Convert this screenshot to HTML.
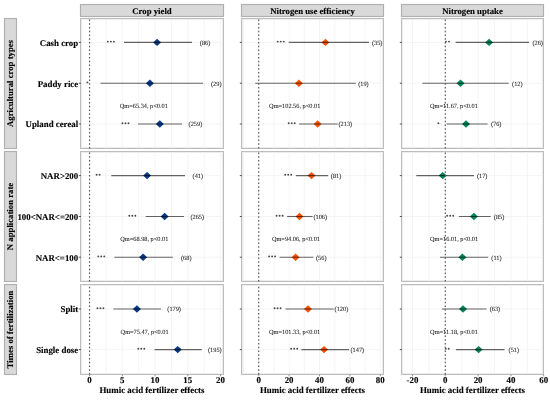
<!DOCTYPE html><html><head><meta charset="utf-8"><style>html,body{margin:0;padding:0;background:#fff;width:550px;height:401px;overflow:hidden}svg{display:block;will-change:transform}text{font-family:"Liberation Serif",serif;text-rendering:geometricPrecision}.b{font-weight:bold;font-size:8.85px;fill:#000;stroke:#000;stroke-width:0.12px}.r{font-size:6.3px;fill:#1a1a1a;stroke:#1a1a1a;stroke-width:0.06px}</style></head><body>
<svg width="550" height="401" viewBox="0 0 550 401">
<rect x="80.5" y="4.5" width="143.0" height="12" fill="#d9d9d9" stroke="#b0b0b0" stroke-width="1.15"/>
<text class="b" x="152.0" y="13.5" text-anchor="middle" style="font-size:8.72px">Crop yield</text>
<rect x="241.5" y="4.5" width="142.0" height="12" fill="#d9d9d9" stroke="#b0b0b0" stroke-width="1.15"/>
<text class="b" x="312.5" y="13.5" text-anchor="middle" style="font-size:8.72px">Nitrogen use efficiency</text>
<rect x="401.5" y="4.5" width="142.0" height="12" fill="#d9d9d9" stroke="#b0b0b0" stroke-width="1.15"/>
<text class="b" x="472.5" y="13.5" text-anchor="middle" style="font-size:8.72px">Nitrogen uptake</text>
<rect x="4.5" y="18.5" width="12" height="130.0" fill="#d9d9d9" stroke="#b0b0b0" stroke-width="1.15"/>
<text class="b" transform="translate(13.4,83.5) rotate(-90)" x="0" y="0" text-anchor="middle" style="font-size:8.72px">Agricultural crop types</text>
<rect x="4.5" y="151.5" width="12" height="130.0" fill="#d9d9d9" stroke="#b0b0b0" stroke-width="1.15"/>
<text class="b" transform="translate(13.4,216.5) rotate(-90)" x="0" y="0" text-anchor="middle" style="font-size:8.72px">N application rate</text>
<rect x="4.5" y="284.5" width="12" height="90.0" fill="#d9d9d9" stroke="#b0b0b0" stroke-width="1.15"/>
<text class="b" transform="translate(13.4,329.5) rotate(-90)" x="0" y="0" text-anchor="middle" style="font-size:8.72px">Times of fertilization</text>
<rect x="80.5" y="18.5" width="143.0" height="130.0" fill="#fff"/>
<rect x="81.5" y="19.5" width="141.0" height="128.0" fill="none" stroke="#ececec" stroke-width="1"/>
<line x1="89.55" y1="18.5" x2="89.55" y2="148.5" stroke="#f1f1f1" stroke-width="0.8"/>
<line x1="105.92" y1="18.5" x2="105.92" y2="148.5" stroke="#f1f1f1" stroke-width="0.8"/>
<line x1="122.30" y1="18.5" x2="122.30" y2="148.5" stroke="#f1f1f1" stroke-width="0.8"/>
<line x1="138.68" y1="18.5" x2="138.68" y2="148.5" stroke="#f1f1f1" stroke-width="0.8"/>
<line x1="155.05" y1="18.5" x2="155.05" y2="148.5" stroke="#f1f1f1" stroke-width="0.8"/>
<line x1="171.43" y1="18.5" x2="171.43" y2="148.5" stroke="#f1f1f1" stroke-width="0.8"/>
<line x1="187.80" y1="18.5" x2="187.80" y2="148.5" stroke="#f1f1f1" stroke-width="0.8"/>
<line x1="204.18" y1="18.5" x2="204.18" y2="148.5" stroke="#f1f1f1" stroke-width="0.8"/>
<line x1="220.55" y1="18.5" x2="220.55" y2="148.5" stroke="#f1f1f1" stroke-width="0.8"/>
<line x1="80.5" y1="42.40" x2="223.5" y2="42.40" stroke="#f1f1f1" stroke-width="0.8"/>
<line x1="80.5" y1="83.20" x2="223.5" y2="83.20" stroke="#f1f1f1" stroke-width="0.8"/>
<line x1="80.5" y1="124.00" x2="223.5" y2="124.00" stroke="#f1f1f1" stroke-width="0.8"/>
<path d="M157.1 38.70L161.1 42.40L157.1 46.10L153.1 42.40Z" fill="#073a85"/>
<line x1="124.0" y1="42.40" x2="192.0" y2="42.40" stroke="#000" stroke-opacity="0.6" stroke-width="1.1"/>
<circle cx="107.90" cy="41.60" r="0.95" fill="#4a4a4a"/>
<circle cx="110.90" cy="41.60" r="0.95" fill="#4a4a4a"/>
<circle cx="113.90" cy="41.60" r="0.95" fill="#4a4a4a"/>
<text class="r" x="199.8" y="44.70">(86)</text>
<path d="M149.9 79.50L153.9 83.20L149.9 86.90L145.9 83.20Z" fill="#073a85"/>
<line x1="100.5" y1="83.20" x2="203.1" y2="83.20" stroke="#000" stroke-opacity="0.6" stroke-width="1.1"/>
<circle cx="87.40" cy="82.40" r="0.95" fill="#4a4a4a"/>
<text class="r" x="211.0" y="85.50">(29)</text>
<path d="M159.8 120.30L163.8 124.00L159.8 127.70L155.8 124.00Z" fill="#073a85"/>
<line x1="138.1" y1="124.00" x2="182.1" y2="124.00" stroke="#000" stroke-opacity="0.6" stroke-width="1.1"/>
<circle cx="122.50" cy="123.20" r="0.95" fill="#4a4a4a"/>
<circle cx="125.50" cy="123.20" r="0.95" fill="#4a4a4a"/>
<circle cx="128.50" cy="123.20" r="0.95" fill="#4a4a4a"/>
<text class="r" x="188.6" y="126.30">(259)</text>
<text class="r" x="119.8" y="108.00">Qm=65.34, p&lt;0.01</text>
<rect x="80.5" y="18.5" width="143.0" height="130.0" fill="none" stroke="#bdbdbd" stroke-width="1"/>
<line x1="89.55" y1="148.55" x2="89.55" y2="18.8" stroke="#5a5a5a" stroke-width="1.2" stroke-dasharray="1.5 2.25"/>
<rect x="80.5" y="151.5" width="143.0" height="130.0" fill="#fff"/>
<rect x="81.5" y="152.5" width="141.0" height="128.0" fill="none" stroke="#ececec" stroke-width="1"/>
<line x1="89.55" y1="151.5" x2="89.55" y2="281.5" stroke="#f1f1f1" stroke-width="0.8"/>
<line x1="105.92" y1="151.5" x2="105.92" y2="281.5" stroke="#f1f1f1" stroke-width="0.8"/>
<line x1="122.30" y1="151.5" x2="122.30" y2="281.5" stroke="#f1f1f1" stroke-width="0.8"/>
<line x1="138.68" y1="151.5" x2="138.68" y2="281.5" stroke="#f1f1f1" stroke-width="0.8"/>
<line x1="155.05" y1="151.5" x2="155.05" y2="281.5" stroke="#f1f1f1" stroke-width="0.8"/>
<line x1="171.43" y1="151.5" x2="171.43" y2="281.5" stroke="#f1f1f1" stroke-width="0.8"/>
<line x1="187.80" y1="151.5" x2="187.80" y2="281.5" stroke="#f1f1f1" stroke-width="0.8"/>
<line x1="204.18" y1="151.5" x2="204.18" y2="281.5" stroke="#f1f1f1" stroke-width="0.8"/>
<line x1="220.55" y1="151.5" x2="220.55" y2="281.5" stroke="#f1f1f1" stroke-width="0.8"/>
<line x1="80.5" y1="175.60" x2="223.5" y2="175.60" stroke="#f1f1f1" stroke-width="0.8"/>
<line x1="80.5" y1="216.50" x2="223.5" y2="216.50" stroke="#f1f1f1" stroke-width="0.8"/>
<line x1="80.5" y1="257.20" x2="223.5" y2="257.20" stroke="#f1f1f1" stroke-width="0.8"/>
<path d="M147.1 171.90L151.1 175.60L147.1 179.30L143.1 175.60Z" fill="#073a85"/>
<line x1="111.3" y1="175.60" x2="185.0" y2="175.60" stroke="#000" stroke-opacity="0.6" stroke-width="1.1"/>
<circle cx="96.60" cy="174.80" r="0.95" fill="#4a4a4a"/>
<circle cx="99.60" cy="174.80" r="0.95" fill="#4a4a4a"/>
<text class="r" x="192.6" y="177.90">(41)</text>
<path d="M164.6 212.80L168.6 216.50L164.6 220.20L160.6 216.50Z" fill="#073a85"/>
<line x1="145.7" y1="216.50" x2="184.0" y2="216.50" stroke="#000" stroke-opacity="0.6" stroke-width="1.1"/>
<circle cx="129.30" cy="215.70" r="0.95" fill="#4a4a4a"/>
<circle cx="132.30" cy="215.70" r="0.95" fill="#4a4a4a"/>
<circle cx="135.30" cy="215.70" r="0.95" fill="#4a4a4a"/>
<text class="r" x="190.4" y="218.80">(265)</text>
<path d="M143.1 253.50L147.1 257.20L143.1 260.90L139.1 257.20Z" fill="#073a85"/>
<line x1="114.4" y1="257.20" x2="172.8" y2="257.20" stroke="#000" stroke-opacity="0.6" stroke-width="1.1"/>
<circle cx="98.30" cy="256.40" r="0.95" fill="#4a4a4a"/>
<circle cx="101.30" cy="256.40" r="0.95" fill="#4a4a4a"/>
<circle cx="104.30" cy="256.40" r="0.95" fill="#4a4a4a"/>
<text class="r" x="181.0" y="259.50">(68)</text>
<text class="r" x="120.3" y="241.25">Qm=68.98, p&lt;0.01</text>
<rect x="80.5" y="151.5" width="143.0" height="130.0" fill="none" stroke="#bdbdbd" stroke-width="1"/>
<line x1="89.55" y1="281.55" x2="89.55" y2="151.8" stroke="#5a5a5a" stroke-width="1.2" stroke-dasharray="1.5 2.25"/>
<rect x="80.5" y="284.5" width="143.0" height="90.0" fill="#fff"/>
<rect x="81.5" y="285.5" width="141.0" height="88.0" fill="none" stroke="#ececec" stroke-width="1"/>
<line x1="89.55" y1="284.5" x2="89.55" y2="374.5" stroke="#f1f1f1" stroke-width="0.8"/>
<line x1="105.92" y1="284.5" x2="105.92" y2="374.5" stroke="#f1f1f1" stroke-width="0.8"/>
<line x1="122.30" y1="284.5" x2="122.30" y2="374.5" stroke="#f1f1f1" stroke-width="0.8"/>
<line x1="138.68" y1="284.5" x2="138.68" y2="374.5" stroke="#f1f1f1" stroke-width="0.8"/>
<line x1="155.05" y1="284.5" x2="155.05" y2="374.5" stroke="#f1f1f1" stroke-width="0.8"/>
<line x1="171.43" y1="284.5" x2="171.43" y2="374.5" stroke="#f1f1f1" stroke-width="0.8"/>
<line x1="187.80" y1="284.5" x2="187.80" y2="374.5" stroke="#f1f1f1" stroke-width="0.8"/>
<line x1="204.18" y1="284.5" x2="204.18" y2="374.5" stroke="#f1f1f1" stroke-width="0.8"/>
<line x1="220.55" y1="284.5" x2="220.55" y2="374.5" stroke="#f1f1f1" stroke-width="0.8"/>
<line x1="80.5" y1="309.00" x2="223.5" y2="309.00" stroke="#f1f1f1" stroke-width="0.8"/>
<line x1="80.5" y1="349.60" x2="223.5" y2="349.60" stroke="#f1f1f1" stroke-width="0.8"/>
<path d="M136.9 305.30L140.9 309.00L136.9 312.70L132.9 309.00Z" fill="#073a85"/>
<line x1="113.4" y1="309.00" x2="161.0" y2="309.00" stroke="#000" stroke-opacity="0.6" stroke-width="1.1"/>
<circle cx="97.40" cy="308.20" r="0.95" fill="#4a4a4a"/>
<circle cx="100.40" cy="308.20" r="0.95" fill="#4a4a4a"/>
<circle cx="103.40" cy="308.20" r="0.95" fill="#4a4a4a"/>
<text class="r" x="167.3" y="311.30">(179)</text>
<path d="M177.7 345.90L181.7 349.60L177.7 353.30L173.7 349.60Z" fill="#073a85"/>
<line x1="154.5" y1="349.60" x2="201.8" y2="349.60" stroke="#000" stroke-opacity="0.6" stroke-width="1.1"/>
<circle cx="138.30" cy="348.80" r="0.95" fill="#4a4a4a"/>
<circle cx="141.30" cy="348.80" r="0.95" fill="#4a4a4a"/>
<circle cx="144.30" cy="348.80" r="0.95" fill="#4a4a4a"/>
<text class="r" x="208.0" y="351.90">(195)</text>
<text class="r" x="120.6" y="333.70">Qm=75.47, p&lt;0.01</text>
<rect x="80.5" y="284.5" width="143.0" height="90.0" fill="none" stroke="#bdbdbd" stroke-width="1"/>
<line x1="89.55" y1="374.55" x2="89.55" y2="284.8" stroke="#5a5a5a" stroke-width="1.2" stroke-dasharray="1.5 2.25"/>
<line x1="89.55" y1="374.5" x2="89.55" y2="376.3" stroke="#777" stroke-width="0.8"/>
<text class="b" x="89.55" y="382.9" text-anchor="middle" style="font-size:8.9px">0</text>
<line x1="122.30" y1="374.5" x2="122.30" y2="376.3" stroke="#777" stroke-width="0.8"/>
<text class="b" x="122.30" y="382.9" text-anchor="middle" style="font-size:8.9px">5</text>
<line x1="155.05" y1="374.5" x2="155.05" y2="376.3" stroke="#777" stroke-width="0.8"/>
<text class="b" x="155.05" y="382.9" text-anchor="middle" style="font-size:8.9px">10</text>
<line x1="187.80" y1="374.5" x2="187.80" y2="376.3" stroke="#777" stroke-width="0.8"/>
<text class="b" x="187.80" y="382.9" text-anchor="middle" style="font-size:8.9px">15</text>
<line x1="220.55" y1="374.5" x2="220.55" y2="376.3" stroke="#777" stroke-width="0.8"/>
<text class="b" x="220.55" y="382.9" text-anchor="middle" style="font-size:8.9px">20</text>
<text class="b" x="152.0" y="393.1" text-anchor="middle" style="font-size:8.9px">Humic acid fertilizer effects</text>
<rect x="241.5" y="18.5" width="142.0" height="130.0" fill="#fff"/>
<rect x="242.5" y="19.5" width="140.0" height="128.0" fill="none" stroke="#ececec" stroke-width="1"/>
<line x1="243.50" y1="18.5" x2="243.50" y2="148.5" stroke="#f1f1f1" stroke-width="0.8"/>
<line x1="258.70" y1="18.5" x2="258.70" y2="148.5" stroke="#f1f1f1" stroke-width="0.8"/>
<line x1="273.90" y1="18.5" x2="273.90" y2="148.5" stroke="#f1f1f1" stroke-width="0.8"/>
<line x1="289.10" y1="18.5" x2="289.10" y2="148.5" stroke="#f1f1f1" stroke-width="0.8"/>
<line x1="304.30" y1="18.5" x2="304.30" y2="148.5" stroke="#f1f1f1" stroke-width="0.8"/>
<line x1="319.50" y1="18.5" x2="319.50" y2="148.5" stroke="#f1f1f1" stroke-width="0.8"/>
<line x1="334.70" y1="18.5" x2="334.70" y2="148.5" stroke="#f1f1f1" stroke-width="0.8"/>
<line x1="349.90" y1="18.5" x2="349.90" y2="148.5" stroke="#f1f1f1" stroke-width="0.8"/>
<line x1="365.10" y1="18.5" x2="365.10" y2="148.5" stroke="#f1f1f1" stroke-width="0.8"/>
<line x1="380.30" y1="18.5" x2="380.30" y2="148.5" stroke="#f1f1f1" stroke-width="0.8"/>
<line x1="241.5" y1="42.40" x2="383.5" y2="42.40" stroke="#f1f1f1" stroke-width="0.8"/>
<line x1="241.5" y1="83.20" x2="383.5" y2="83.20" stroke="#f1f1f1" stroke-width="0.8"/>
<line x1="241.5" y1="124.00" x2="383.5" y2="124.00" stroke="#f1f1f1" stroke-width="0.8"/>
<path d="M325.4 38.70L329.4 42.40L325.4 46.10L321.4 42.40Z" fill="#f85200"/>
<line x1="288.7" y1="42.40" x2="369.0" y2="42.40" stroke="#000" stroke-opacity="0.6" stroke-width="1.1"/>
<circle cx="277.70" cy="41.60" r="0.95" fill="#4a4a4a"/>
<circle cx="280.70" cy="41.60" r="0.95" fill="#4a4a4a"/>
<circle cx="283.70" cy="41.60" r="0.95" fill="#4a4a4a"/>
<text class="r" x="371.9" y="44.70">(35)</text>
<path d="M298.9 79.50L302.9 83.20L298.9 86.90L294.9 83.20Z" fill="#f85200"/>
<line x1="255.3" y1="83.20" x2="355.8" y2="83.20" stroke="#000" stroke-opacity="0.6" stroke-width="1.1"/>
<text class="r" x="358.2" y="85.50">(19)</text>
<path d="M317.6 120.30L321.6 124.00L317.6 127.70L313.6 124.00Z" fill="#f85200"/>
<line x1="299.1" y1="124.00" x2="337.8" y2="124.00" stroke="#000" stroke-opacity="0.6" stroke-width="1.1"/>
<circle cx="288.70" cy="123.20" r="0.95" fill="#4a4a4a"/>
<circle cx="291.70" cy="123.20" r="0.95" fill="#4a4a4a"/>
<circle cx="294.70" cy="123.20" r="0.95" fill="#4a4a4a"/>
<text class="r" x="338.5" y="126.30">(213)</text>
<text class="r" x="269.1" y="108.00">Qm=102.56, p&lt;0.01</text>
<rect x="241.5" y="18.5" width="142.0" height="130.0" fill="none" stroke="#bdbdbd" stroke-width="1"/>
<line x1="258.7" y1="148.55" x2="258.7" y2="18.8" stroke="#5a5a5a" stroke-width="1.2" stroke-dasharray="1.5 2.25"/>
<rect x="241.5" y="151.5" width="142.0" height="130.0" fill="#fff"/>
<rect x="242.5" y="152.5" width="140.0" height="128.0" fill="none" stroke="#ececec" stroke-width="1"/>
<line x1="243.50" y1="151.5" x2="243.50" y2="281.5" stroke="#f1f1f1" stroke-width="0.8"/>
<line x1="258.70" y1="151.5" x2="258.70" y2="281.5" stroke="#f1f1f1" stroke-width="0.8"/>
<line x1="273.90" y1="151.5" x2="273.90" y2="281.5" stroke="#f1f1f1" stroke-width="0.8"/>
<line x1="289.10" y1="151.5" x2="289.10" y2="281.5" stroke="#f1f1f1" stroke-width="0.8"/>
<line x1="304.30" y1="151.5" x2="304.30" y2="281.5" stroke="#f1f1f1" stroke-width="0.8"/>
<line x1="319.50" y1="151.5" x2="319.50" y2="281.5" stroke="#f1f1f1" stroke-width="0.8"/>
<line x1="334.70" y1="151.5" x2="334.70" y2="281.5" stroke="#f1f1f1" stroke-width="0.8"/>
<line x1="349.90" y1="151.5" x2="349.90" y2="281.5" stroke="#f1f1f1" stroke-width="0.8"/>
<line x1="365.10" y1="151.5" x2="365.10" y2="281.5" stroke="#f1f1f1" stroke-width="0.8"/>
<line x1="380.30" y1="151.5" x2="380.30" y2="281.5" stroke="#f1f1f1" stroke-width="0.8"/>
<line x1="241.5" y1="175.60" x2="383.5" y2="175.60" stroke="#f1f1f1" stroke-width="0.8"/>
<line x1="241.5" y1="216.50" x2="383.5" y2="216.50" stroke="#f1f1f1" stroke-width="0.8"/>
<line x1="241.5" y1="257.20" x2="383.5" y2="257.20" stroke="#f1f1f1" stroke-width="0.8"/>
<path d="M311.5 171.90L315.5 175.60L311.5 179.30L307.5 175.60Z" fill="#f85200"/>
<line x1="295.9" y1="175.60" x2="328.2" y2="175.60" stroke="#000" stroke-opacity="0.6" stroke-width="1.1"/>
<circle cx="285.20" cy="174.80" r="0.95" fill="#4a4a4a"/>
<circle cx="288.20" cy="174.80" r="0.95" fill="#4a4a4a"/>
<circle cx="291.20" cy="174.80" r="0.95" fill="#4a4a4a"/>
<text class="r" x="330.8" y="177.90">(81)</text>
<path d="M299.5 212.80L303.5 216.50L299.5 220.20L295.5 216.50Z" fill="#f85200"/>
<line x1="287.1" y1="216.50" x2="312.6" y2="216.50" stroke="#000" stroke-opacity="0.6" stroke-width="1.1"/>
<circle cx="276.60" cy="215.70" r="0.95" fill="#4a4a4a"/>
<circle cx="279.60" cy="215.70" r="0.95" fill="#4a4a4a"/>
<circle cx="282.60" cy="215.70" r="0.95" fill="#4a4a4a"/>
<text class="r" x="313.4" y="218.80">(106)</text>
<path d="M295.6 253.50L299.6 257.20L295.6 260.90L291.6 257.20Z" fill="#f85200"/>
<line x1="279.6" y1="257.20" x2="313.5" y2="257.20" stroke="#000" stroke-opacity="0.6" stroke-width="1.1"/>
<circle cx="269.10" cy="256.40" r="0.95" fill="#4a4a4a"/>
<circle cx="272.10" cy="256.40" r="0.95" fill="#4a4a4a"/>
<circle cx="275.10" cy="256.40" r="0.95" fill="#4a4a4a"/>
<text class="r" x="316.0" y="259.50">(56)</text>
<text class="r" x="271.9" y="241.25">Qm=94.06, p&lt;0.01</text>
<rect x="241.5" y="151.5" width="142.0" height="130.0" fill="none" stroke="#bdbdbd" stroke-width="1"/>
<line x1="258.7" y1="281.55" x2="258.7" y2="151.8" stroke="#5a5a5a" stroke-width="1.2" stroke-dasharray="1.5 2.25"/>
<rect x="241.5" y="284.5" width="142.0" height="90.0" fill="#fff"/>
<rect x="242.5" y="285.5" width="140.0" height="88.0" fill="none" stroke="#ececec" stroke-width="1"/>
<line x1="243.50" y1="284.5" x2="243.50" y2="374.5" stroke="#f1f1f1" stroke-width="0.8"/>
<line x1="258.70" y1="284.5" x2="258.70" y2="374.5" stroke="#f1f1f1" stroke-width="0.8"/>
<line x1="273.90" y1="284.5" x2="273.90" y2="374.5" stroke="#f1f1f1" stroke-width="0.8"/>
<line x1="289.10" y1="284.5" x2="289.10" y2="374.5" stroke="#f1f1f1" stroke-width="0.8"/>
<line x1="304.30" y1="284.5" x2="304.30" y2="374.5" stroke="#f1f1f1" stroke-width="0.8"/>
<line x1="319.50" y1="284.5" x2="319.50" y2="374.5" stroke="#f1f1f1" stroke-width="0.8"/>
<line x1="334.70" y1="284.5" x2="334.70" y2="374.5" stroke="#f1f1f1" stroke-width="0.8"/>
<line x1="349.90" y1="284.5" x2="349.90" y2="374.5" stroke="#f1f1f1" stroke-width="0.8"/>
<line x1="365.10" y1="284.5" x2="365.10" y2="374.5" stroke="#f1f1f1" stroke-width="0.8"/>
<line x1="380.30" y1="284.5" x2="380.30" y2="374.5" stroke="#f1f1f1" stroke-width="0.8"/>
<line x1="241.5" y1="309.00" x2="383.5" y2="309.00" stroke="#f1f1f1" stroke-width="0.8"/>
<line x1="241.5" y1="349.60" x2="383.5" y2="349.60" stroke="#f1f1f1" stroke-width="0.8"/>
<path d="M308.0 305.30L312.0 309.00L308.0 312.70L304.0 309.00Z" fill="#f85200"/>
<line x1="285.5" y1="309.00" x2="333.7" y2="309.00" stroke="#000" stroke-opacity="0.6" stroke-width="1.1"/>
<circle cx="274.60" cy="308.20" r="0.95" fill="#4a4a4a"/>
<circle cx="277.60" cy="308.20" r="0.95" fill="#4a4a4a"/>
<circle cx="280.60" cy="308.20" r="0.95" fill="#4a4a4a"/>
<text class="r" x="334.6" y="311.30">(120)</text>
<path d="M324.1 345.90L328.1 349.60L324.1 353.30L320.1 349.60Z" fill="#f85200"/>
<line x1="301.4" y1="349.60" x2="349.0" y2="349.60" stroke="#000" stroke-opacity="0.6" stroke-width="1.1"/>
<circle cx="291.20" cy="348.80" r="0.95" fill="#4a4a4a"/>
<circle cx="294.20" cy="348.80" r="0.95" fill="#4a4a4a"/>
<circle cx="297.20" cy="348.80" r="0.95" fill="#4a4a4a"/>
<text class="r" x="350.5" y="351.90">(147)</text>
<text class="r" x="269.0" y="333.70">Qm=101.33, p&lt;0.01</text>
<rect x="241.5" y="284.5" width="142.0" height="90.0" fill="none" stroke="#bdbdbd" stroke-width="1"/>
<line x1="258.7" y1="374.55" x2="258.7" y2="284.8" stroke="#5a5a5a" stroke-width="1.2" stroke-dasharray="1.5 2.25"/>
<line x1="258.70" y1="374.5" x2="258.70" y2="376.3" stroke="#777" stroke-width="0.8"/>
<text class="b" x="258.70" y="382.9" text-anchor="middle" style="font-size:8.9px">0</text>
<line x1="289.10" y1="374.5" x2="289.10" y2="376.3" stroke="#777" stroke-width="0.8"/>
<text class="b" x="289.10" y="382.9" text-anchor="middle" style="font-size:8.9px">20</text>
<line x1="319.50" y1="374.5" x2="319.50" y2="376.3" stroke="#777" stroke-width="0.8"/>
<text class="b" x="319.50" y="382.9" text-anchor="middle" style="font-size:8.9px">40</text>
<line x1="349.90" y1="374.5" x2="349.90" y2="376.3" stroke="#777" stroke-width="0.8"/>
<text class="b" x="349.90" y="382.9" text-anchor="middle" style="font-size:8.9px">60</text>
<line x1="380.30" y1="374.5" x2="380.30" y2="376.3" stroke="#777" stroke-width="0.8"/>
<text class="b" x="380.30" y="382.9" text-anchor="middle" style="font-size:8.9px">80</text>
<text class="b" x="312.5" y="393.1" text-anchor="middle" style="font-size:8.9px">Humic acid fertilizer effects</text>
<rect x="401.5" y="18.5" width="142.0" height="130.0" fill="#fff"/>
<rect x="402.5" y="19.5" width="140.0" height="128.0" fill="none" stroke="#ececec" stroke-width="1"/>
<line x1="412.50" y1="18.5" x2="412.50" y2="148.5" stroke="#f1f1f1" stroke-width="0.8"/>
<line x1="428.90" y1="18.5" x2="428.90" y2="148.5" stroke="#f1f1f1" stroke-width="0.8"/>
<line x1="445.30" y1="18.5" x2="445.30" y2="148.5" stroke="#f1f1f1" stroke-width="0.8"/>
<line x1="461.70" y1="18.5" x2="461.70" y2="148.5" stroke="#f1f1f1" stroke-width="0.8"/>
<line x1="478.10" y1="18.5" x2="478.10" y2="148.5" stroke="#f1f1f1" stroke-width="0.8"/>
<line x1="494.50" y1="18.5" x2="494.50" y2="148.5" stroke="#f1f1f1" stroke-width="0.8"/>
<line x1="510.90" y1="18.5" x2="510.90" y2="148.5" stroke="#f1f1f1" stroke-width="0.8"/>
<line x1="527.30" y1="18.5" x2="527.30" y2="148.5" stroke="#f1f1f1" stroke-width="0.8"/>
<line x1="401.5" y1="42.40" x2="543.5" y2="42.40" stroke="#f1f1f1" stroke-width="0.8"/>
<line x1="401.5" y1="83.20" x2="543.5" y2="83.20" stroke="#f1f1f1" stroke-width="0.8"/>
<line x1="401.5" y1="124.00" x2="543.5" y2="124.00" stroke="#f1f1f1" stroke-width="0.8"/>
<path d="M489.1 38.70L493.1 42.40L489.1 46.10L485.1 42.40Z" fill="#05845a"/>
<line x1="455.6" y1="42.40" x2="529.0" y2="42.40" stroke="#000" stroke-opacity="0.6" stroke-width="1.1"/>
<circle cx="446.00" cy="41.60" r="0.95" fill="#4a4a4a"/>
<circle cx="449.00" cy="41.60" r="0.95" fill="#4a4a4a"/>
<text class="r" x="532.4" y="44.70">(26)</text>
<path d="M460.5 79.50L464.5 83.20L460.5 86.90L456.5 83.20Z" fill="#05845a"/>
<line x1="422.3" y1="83.20" x2="508.6" y2="83.20" stroke="#000" stroke-opacity="0.6" stroke-width="1.1"/>
<text class="r" x="512.1" y="85.50">(12)</text>
<path d="M466.0 120.30L470.0 124.00L466.0 127.70L462.0 124.00Z" fill="#05845a"/>
<line x1="446.7" y1="124.00" x2="487.6" y2="124.00" stroke="#000" stroke-opacity="0.6" stroke-width="1.1"/>
<circle cx="438.40" cy="123.20" r="0.95" fill="#4a4a4a"/>
<text class="r" x="490.9" y="126.30">(76)</text>
<text class="r" x="430.0" y="108.00">Qm=11.67, p&lt;0.01</text>
<rect x="401.5" y="18.5" width="142.0" height="130.0" fill="none" stroke="#bdbdbd" stroke-width="1"/>
<line x1="445.3" y1="148.55" x2="445.3" y2="18.8" stroke="#5a5a5a" stroke-width="1.2" stroke-dasharray="1.5 2.25"/>
<rect x="401.5" y="151.5" width="142.0" height="130.0" fill="#fff"/>
<rect x="402.5" y="152.5" width="140.0" height="128.0" fill="none" stroke="#ececec" stroke-width="1"/>
<line x1="412.50" y1="151.5" x2="412.50" y2="281.5" stroke="#f1f1f1" stroke-width="0.8"/>
<line x1="428.90" y1="151.5" x2="428.90" y2="281.5" stroke="#f1f1f1" stroke-width="0.8"/>
<line x1="445.30" y1="151.5" x2="445.30" y2="281.5" stroke="#f1f1f1" stroke-width="0.8"/>
<line x1="461.70" y1="151.5" x2="461.70" y2="281.5" stroke="#f1f1f1" stroke-width="0.8"/>
<line x1="478.10" y1="151.5" x2="478.10" y2="281.5" stroke="#f1f1f1" stroke-width="0.8"/>
<line x1="494.50" y1="151.5" x2="494.50" y2="281.5" stroke="#f1f1f1" stroke-width="0.8"/>
<line x1="510.90" y1="151.5" x2="510.90" y2="281.5" stroke="#f1f1f1" stroke-width="0.8"/>
<line x1="527.30" y1="151.5" x2="527.30" y2="281.5" stroke="#f1f1f1" stroke-width="0.8"/>
<line x1="401.5" y1="175.60" x2="543.5" y2="175.60" stroke="#f1f1f1" stroke-width="0.8"/>
<line x1="401.5" y1="216.50" x2="543.5" y2="216.50" stroke="#f1f1f1" stroke-width="0.8"/>
<line x1="401.5" y1="257.20" x2="543.5" y2="257.20" stroke="#f1f1f1" stroke-width="0.8"/>
<path d="M442.7 171.90L446.7 175.60L442.7 179.30L438.7 175.60Z" fill="#05845a"/>
<line x1="416.3" y1="175.60" x2="474.0" y2="175.60" stroke="#000" stroke-opacity="0.6" stroke-width="1.1"/>
<text class="r" x="476.9" y="177.90">(17)</text>
<path d="M473.9 212.80L477.9 216.50L473.9 220.20L469.9 216.50Z" fill="#05845a"/>
<line x1="458.9" y1="216.50" x2="490.6" y2="216.50" stroke="#000" stroke-opacity="0.6" stroke-width="1.1"/>
<circle cx="447.20" cy="215.70" r="0.95" fill="#4a4a4a"/>
<circle cx="450.20" cy="215.70" r="0.95" fill="#4a4a4a"/>
<circle cx="453.20" cy="215.70" r="0.95" fill="#4a4a4a"/>
<text class="r" x="493.8" y="218.80">(85)</text>
<path d="M462.4 253.50L466.4 257.20L462.4 260.90L458.4 257.20Z" fill="#05845a"/>
<line x1="440.0" y1="257.20" x2="488.2" y2="257.20" stroke="#000" stroke-opacity="0.6" stroke-width="1.1"/>
<text class="r" x="491.3" y="259.50">(11)</text>
<text class="r" x="430.0" y="241.25">Qm=16.01, p&lt;0.01</text>
<rect x="401.5" y="151.5" width="142.0" height="130.0" fill="none" stroke="#bdbdbd" stroke-width="1"/>
<line x1="445.3" y1="281.55" x2="445.3" y2="151.8" stroke="#5a5a5a" stroke-width="1.2" stroke-dasharray="1.5 2.25"/>
<rect x="401.5" y="284.5" width="142.0" height="90.0" fill="#fff"/>
<rect x="402.5" y="285.5" width="140.0" height="88.0" fill="none" stroke="#ececec" stroke-width="1"/>
<line x1="412.50" y1="284.5" x2="412.50" y2="374.5" stroke="#f1f1f1" stroke-width="0.8"/>
<line x1="428.90" y1="284.5" x2="428.90" y2="374.5" stroke="#f1f1f1" stroke-width="0.8"/>
<line x1="445.30" y1="284.5" x2="445.30" y2="374.5" stroke="#f1f1f1" stroke-width="0.8"/>
<line x1="461.70" y1="284.5" x2="461.70" y2="374.5" stroke="#f1f1f1" stroke-width="0.8"/>
<line x1="478.10" y1="284.5" x2="478.10" y2="374.5" stroke="#f1f1f1" stroke-width="0.8"/>
<line x1="494.50" y1="284.5" x2="494.50" y2="374.5" stroke="#f1f1f1" stroke-width="0.8"/>
<line x1="510.90" y1="284.5" x2="510.90" y2="374.5" stroke="#f1f1f1" stroke-width="0.8"/>
<line x1="527.30" y1="284.5" x2="527.30" y2="374.5" stroke="#f1f1f1" stroke-width="0.8"/>
<line x1="401.5" y1="309.00" x2="543.5" y2="309.00" stroke="#f1f1f1" stroke-width="0.8"/>
<line x1="401.5" y1="349.60" x2="543.5" y2="349.60" stroke="#f1f1f1" stroke-width="0.8"/>
<path d="M463.0 305.30L467.0 309.00L463.0 312.70L459.0 309.00Z" fill="#05845a"/>
<line x1="442.0" y1="309.00" x2="486.5" y2="309.00" stroke="#000" stroke-opacity="0.6" stroke-width="1.1"/>
<text class="r" x="489.7" y="311.30">(63)</text>
<path d="M478.6 345.90L482.6 349.60L478.6 353.30L474.6 349.60Z" fill="#05845a"/>
<line x1="455.9" y1="349.60" x2="504.5" y2="349.60" stroke="#000" stroke-opacity="0.6" stroke-width="1.1"/>
<circle cx="445.70" cy="348.80" r="0.95" fill="#4a4a4a"/>
<circle cx="448.70" cy="348.80" r="0.95" fill="#4a4a4a"/>
<text class="r" x="508.6" y="351.90">(51)</text>
<text class="r" x="430.1" y="333.70">Qm=11.18, p&lt;0.01</text>
<rect x="401.5" y="284.5" width="142.0" height="90.0" fill="none" stroke="#bdbdbd" stroke-width="1"/>
<line x1="445.3" y1="374.55" x2="445.3" y2="284.8" stroke="#5a5a5a" stroke-width="1.2" stroke-dasharray="1.5 2.25"/>
<line x1="412.50" y1="374.5" x2="412.50" y2="376.3" stroke="#777" stroke-width="0.8"/>
<text class="b" x="412.50" y="382.9" text-anchor="middle" style="font-size:8.9px">-20</text>
<line x1="445.30" y1="374.5" x2="445.30" y2="376.3" stroke="#777" stroke-width="0.8"/>
<text class="b" x="445.30" y="382.9" text-anchor="middle" style="font-size:8.9px">0</text>
<line x1="478.10" y1="374.5" x2="478.10" y2="376.3" stroke="#777" stroke-width="0.8"/>
<text class="b" x="478.10" y="382.9" text-anchor="middle" style="font-size:8.9px">20</text>
<line x1="510.90" y1="374.5" x2="510.90" y2="376.3" stroke="#777" stroke-width="0.8"/>
<text class="b" x="510.90" y="382.9" text-anchor="middle" style="font-size:8.9px">40</text>
<line x1="543.70" y1="374.5" x2="543.70" y2="376.3" stroke="#777" stroke-width="0.8"/>
<text class="b" x="543.70" y="382.9" text-anchor="middle" style="font-size:8.9px">60</text>
<text class="b" x="472.5" y="393.1" text-anchor="middle" style="font-size:8.9px">Humic acid fertilizer effects</text>
<line x1="78.8" y1="42.40" x2="81.0" y2="42.40" stroke="#555" stroke-width="1"/>
<line x1="239.8" y1="42.40" x2="242.0" y2="42.40" stroke="#555" stroke-width="1"/>
<line x1="399.8" y1="42.40" x2="402.0" y2="42.40" stroke="#555" stroke-width="1"/>
<text class="b" x="78.2" y="45.85" text-anchor="end">Cash crop</text>
<line x1="78.8" y1="83.20" x2="81.0" y2="83.20" stroke="#555" stroke-width="1"/>
<line x1="239.8" y1="83.20" x2="242.0" y2="83.20" stroke="#555" stroke-width="1"/>
<line x1="399.8" y1="83.20" x2="402.0" y2="83.20" stroke="#555" stroke-width="1"/>
<text class="b" x="78.2" y="86.65" text-anchor="end">Paddy rice</text>
<line x1="78.8" y1="124.00" x2="81.0" y2="124.00" stroke="#555" stroke-width="1"/>
<line x1="239.8" y1="124.00" x2="242.0" y2="124.00" stroke="#555" stroke-width="1"/>
<line x1="399.8" y1="124.00" x2="402.0" y2="124.00" stroke="#555" stroke-width="1"/>
<text class="b" x="78.2" y="127.45" text-anchor="end">Upland cereal</text>
<line x1="78.8" y1="175.60" x2="81.0" y2="175.60" stroke="#555" stroke-width="1"/>
<line x1="239.8" y1="175.60" x2="242.0" y2="175.60" stroke="#555" stroke-width="1"/>
<line x1="399.8" y1="175.60" x2="402.0" y2="175.60" stroke="#555" stroke-width="1"/>
<text class="b" x="78.2" y="179.05" text-anchor="end">NAR&gt;200</text>
<line x1="78.8" y1="216.50" x2="81.0" y2="216.50" stroke="#555" stroke-width="1"/>
<line x1="239.8" y1="216.50" x2="242.0" y2="216.50" stroke="#555" stroke-width="1"/>
<line x1="399.8" y1="216.50" x2="402.0" y2="216.50" stroke="#555" stroke-width="1"/>
<text class="b" x="78.2" y="219.95" text-anchor="end">100&lt;NAR&lt;=200</text>
<line x1="78.8" y1="257.20" x2="81.0" y2="257.20" stroke="#555" stroke-width="1"/>
<line x1="239.8" y1="257.20" x2="242.0" y2="257.20" stroke="#555" stroke-width="1"/>
<line x1="399.8" y1="257.20" x2="402.0" y2="257.20" stroke="#555" stroke-width="1"/>
<text class="b" x="78.2" y="260.65" text-anchor="end">NAR&lt;=100</text>
<line x1="78.8" y1="309.00" x2="81.0" y2="309.00" stroke="#555" stroke-width="1"/>
<line x1="239.8" y1="309.00" x2="242.0" y2="309.00" stroke="#555" stroke-width="1"/>
<line x1="399.8" y1="309.00" x2="402.0" y2="309.00" stroke="#555" stroke-width="1"/>
<text class="b" x="78.2" y="312.45" text-anchor="end">Split</text>
<line x1="78.8" y1="349.60" x2="81.0" y2="349.60" stroke="#555" stroke-width="1"/>
<line x1="239.8" y1="349.60" x2="242.0" y2="349.60" stroke="#555" stroke-width="1"/>
<line x1="399.8" y1="349.60" x2="402.0" y2="349.60" stroke="#555" stroke-width="1"/>
<text class="b" x="78.2" y="353.05" text-anchor="end">Single dose</text>
</svg></body></html>
